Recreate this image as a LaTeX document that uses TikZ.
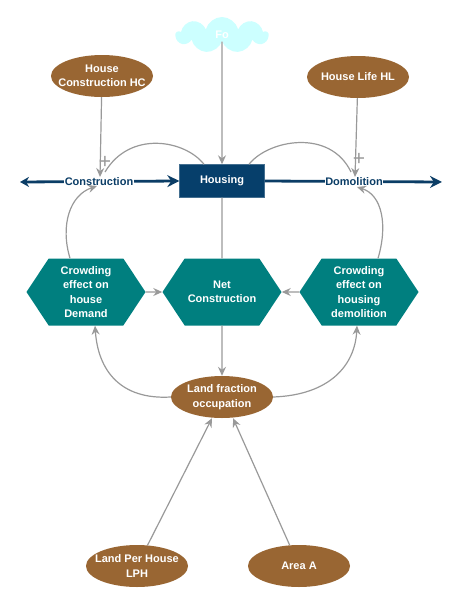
\documentclass[tikz,border=0pt]{standalone}
\usepackage{fontspec}
\setmainfont{Liberation Sans}
\usetikzlibrary{arrows.meta}
\usetikzlibrary{shapes.geometric}
\usetikzlibrary{shapes.symbols}

\definecolor{stockblue}{HTML}{063F6B}
\definecolor{flowblue}{HTML}{0B3D66}
\definecolor{auxteal}{HTML}{007F7F}
\definecolor{constbrown}{HTML}{996633}
\definecolor{linkgray}{HTML}{999999}
\definecolor{cloudcyan}{HTML}{CCFFFF}

\tikzset{
  every node/.style={font=\bfseries\fontsize{11}{14.5}\selectfont, text=white, align=center},
  const/.style={ellipse, fill=constbrown, minimum width=102pt, minimum height=42pt, inner xsep=-9pt, inner ysep=-2pt},
  aux/.style={signal, signal to=east and west, signal pointer angle=113, fill=auxteal, minimum width=119pt, minimum height=67pt, inner sep=0pt},
  stock/.style={rectangle, fill=stockblue, draw=stockblue!75!white, minimum width=85pt, minimum height=33pt},
  src/.style={cloud, cloud puffs=9, aspect=2.6, fill=cloudcyan, minimum width=92pt, minimum height=36pt, inner sep=0pt},
  flow/.style={draw=flowblue, line width=2.8pt, -{Stealth[length=12pt,width=12pt]}},
  flowlabel/.style={fill=white, text=flowblue, inner sep=0.5pt},
  link/.style={draw=linkgray, line width=1.2pt, -{Stealth[length=9pt,width=8pt,inset=3pt]}},
  sign/.style={text=linkgray, font=\fontsize{21}{21}\selectfont},
}

\begin{document}
\begin{tikzpicture}[x=1pt, y=-1pt]
    \useasboundingbox (0,0) rectangle (462,600);

    \node [src] (fo) at (222,35) {Fo};
    \node [const] (hc) at (102,76) {House\\Construction HC};
    \node [const] (hl) at (358,77) {House Life HL};
    \node [stock] (housing) at (222,181) {Housing};
    \node [aux] (crowddem) at (86,292) {Crowding\\effect on\\house\\Demand};
    \node [aux] (netcon) at (222,292) {Net\\Construction};
    \node [aux] (crowddemol) at (359,292) {Crowding\\effect on\\housing\\demolition};
    \node [const] (landfrac) at (222,397) {Land fraction\\occupation};
    \node [const] (lph) at (137,566) {Land Per House\\LPH};
    \node [const] (area) at (299,566) {Area A};

    \coordinate (leftend) at (20,182);
    \coordinate (rightend) at (442,182);
    \coordinate (contop) at (100,177);
    \coordinate (conbot) at (97,186);
    \coordinate (conright) at (105,172);
    \coordinate (demtop) at (355,177);
    \coordinate (dembot) at (357,187);
    \coordinate (demleft) at (351,172);

    % flows
    \draw [flow, {Stealth[length=9pt,width=10pt]}-{Stealth[length=12pt,width=12pt]}] (leftend) -- (housing.west);
    \draw [flow] (housing.east) -- (rightend);
    \node [flowlabel] (conflow) at (99,182) {Construction};
    \node [flowlabel] (demflow) at (354,182) {Domolition};

    % links
    \draw [link] (fo) -- (housing);
    \draw [link] (hc) -- (contop);
    \draw [link] (hl) -- (demtop);
    \node [sign] (hcplus) at (105,162) {+};
    \node [sign] (hlplus) at (359,159) {+};
    \draw [link, -] ([xshift=-18pt]housing.north) .. controls (185,140) and (130,130) .. (conright);
    \draw [link, -] ([xshift=27pt]housing.north) .. controls (268,140) and (330,128) .. (demleft);
    \draw [link] ([xshift=-16pt]crowddem.north) .. controls (60,225) and (70,195) .. (conbot);
    \draw [link] ([xshift=19pt]crowddemol.north) .. controls (388,225) and (382,195) .. (dembot);
    \draw [link, -] (housing) -- (netcon);
    \draw [link] (netcon) -- (landfrac);
    \draw [link] (crowddem) -- (netcon);
    \draw [link] (crowddemol) -- (netcon);
    \draw [link] (landfrac.west) .. controls (120,400) and (98,370) .. ([xshift=9pt]crowddem.south);
    \draw [link] (landfrac.east) .. controls (330,395) and (355,365) .. ([xshift=-2pt]crowddemol.south);
    \draw [link] (lph) -- ([xshift=-10pt]landfrac.south);
    \draw [link] (area) -- ([xshift=11pt]landfrac.south);

\end{tikzpicture}
\end{document}
